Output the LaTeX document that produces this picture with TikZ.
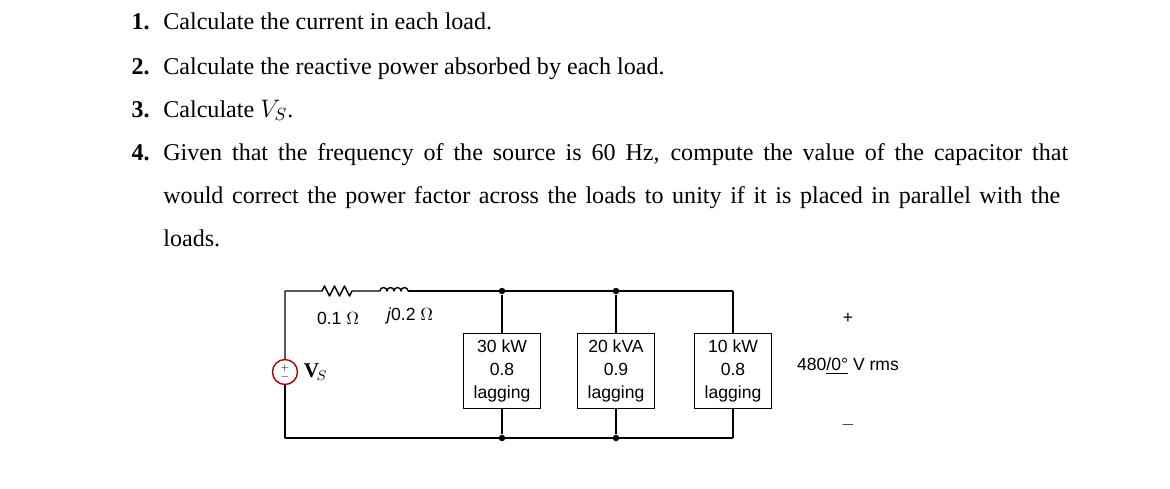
\documentclass[tikz,border=0pt]{standalone}
\usepackage{fontspec}
\setmainfont{Liberation Serif}
\newfontfamily\circfont{Liberation Sans}
\usetikzlibrary{positioning,calc}
\tikzset{
  qline/.style={anchor=base west, inner sep=0pt, font=\fontsize{13.7}{15}\selectfont},
  qnum/.style={anchor=base east, inner sep=0pt, font=\fontsize{13.7}{15}\selectfont\bfseries},
  load/.style={draw, thick, minimum width=1.54cm, minimum height=1.5cm, align=center,
    font=\circfont\fontsize{10}{13}\selectfont, inner sep=1pt},
  lbl/.style={font=\circfont\fontsize{10}{11}\selectfont, inner sep=0pt},
  wire/.style={thick, line join=round},
  dot/.style={circle, fill, inner sep=1.3pt}
}
\begin{document}
\begin{tikzpicture}[x=0.02cm,y=-0.02cm]
    \useasboundingbox (0,0) rectangle (1170,488);

    % Questions
    \node[qnum] (n1) at (150,29) {1.};
    \node[qline] (q1) at (163,29) {Calculate the current in each load.};
    \node[qnum] (n2) at (150,74) {2.};
    \node[qline] (q2) at (163,74) {Calculate the reactive power absorbed by each load.};
    \node[qnum] (n3) at (150,117) {3.};
    \node[qline] (q3) at (163,117) {Calculate $V_S$.};
    \node[qnum] (n4) at (150,160) {4.};
    \node[qline] (q4a) at (163,160) {\makebox[18.1cm][s]{Given that the frequency of the source is 60 Hz, compute the value of the capacitor that}};
    \node[qline] (q4b) at (163,203) {\makebox[17.94cm][s]{would correct the power factor across the loads to unity if it is placed in parallel with the}};
    \node[qline] (q4c) at (163,246) {loads.};

    % Corner points of the circuit
    \coordinate (tl) at (285,291);
    \coordinate (bl) at (285,438);
    \coordinate (tr) at (733,291);
    \coordinate (br) at (733,438);
    \coordinate (r1) at (322,291);
    \coordinate (l1) at (380,291);
    \coordinate (l2) at (408,291);

    % Source
    \node[circle, draw=red!70!black, thick, minimum size=0.5cm, inner sep=0pt] (vs) at (285,372) {};
    \node[font=\tiny, inner sep=0pt] at ($(vs)+(0,-4)$) {$+$};
    \node[font=\tiny, inner sep=0pt] at ($(vs)+(0,5)$) {$-$};
    \node[right=3pt of vs, inner sep=0pt, font=\large] (vslbl) {$\mathbf{V}_{\!S}$};

    % Series elements
    \draw[wire] (vs.north) -- (tl) -- (r1)
        -- ++(2.5,-5) -- ++(5,10) -- ++(5,-10) -- ++(5,10) -- ++(5,-10) -- ++(5,10) -- ++(2.5,-5)
        -- (l1);
    \draw[wire] (l1) arc (180:360:3.5) arc (180:360:3.5) arc (180:360:3.5) arc (180:360:3.5);
    \draw[wire] (l2) -- (tr);
    \draw[wire] (vs.south) -- (bl) -- (br);
    \node[lbl] (rlbl) at (338,318) {0.1 $\Omega$};
    \node[lbl] (llbl) at (410,316) {\textit{j}0.2 $\Omega$};

    % Loads
    \node[load] (ld1) at (502,371) {30 kW\\0.8\\lagging};
    \node[load] (ld2) at (616,371) {20 kVA\\0.9\\lagging};
    \node[load] (ld3) at (733,371) {10 kW\\0.8\\lagging};
    \foreach \k in {1,2} {
      \node[dot] (jt\k) at (ld\k |- tl) {};
      \node[dot] (jb\k) at (ld\k |- bl) {};
      \draw[wire] (jt\k) -- (ld\k.north);
      \draw[wire] (jb\k) -- (ld\k.south);
    }
    \draw[wire] (tr) -- (ld3.north);
    \draw[wire] (br) -- (ld3.south);

    % Voltage label
    \node[lbl] (vp) at (848,318) {+};
    \node[lbl] (vv) at (848,366) {480\underline{/0\textdegree} V rms};
    \node[lbl] (vm) at (848,425) {$-$};
\end{tikzpicture}
\end{document}
